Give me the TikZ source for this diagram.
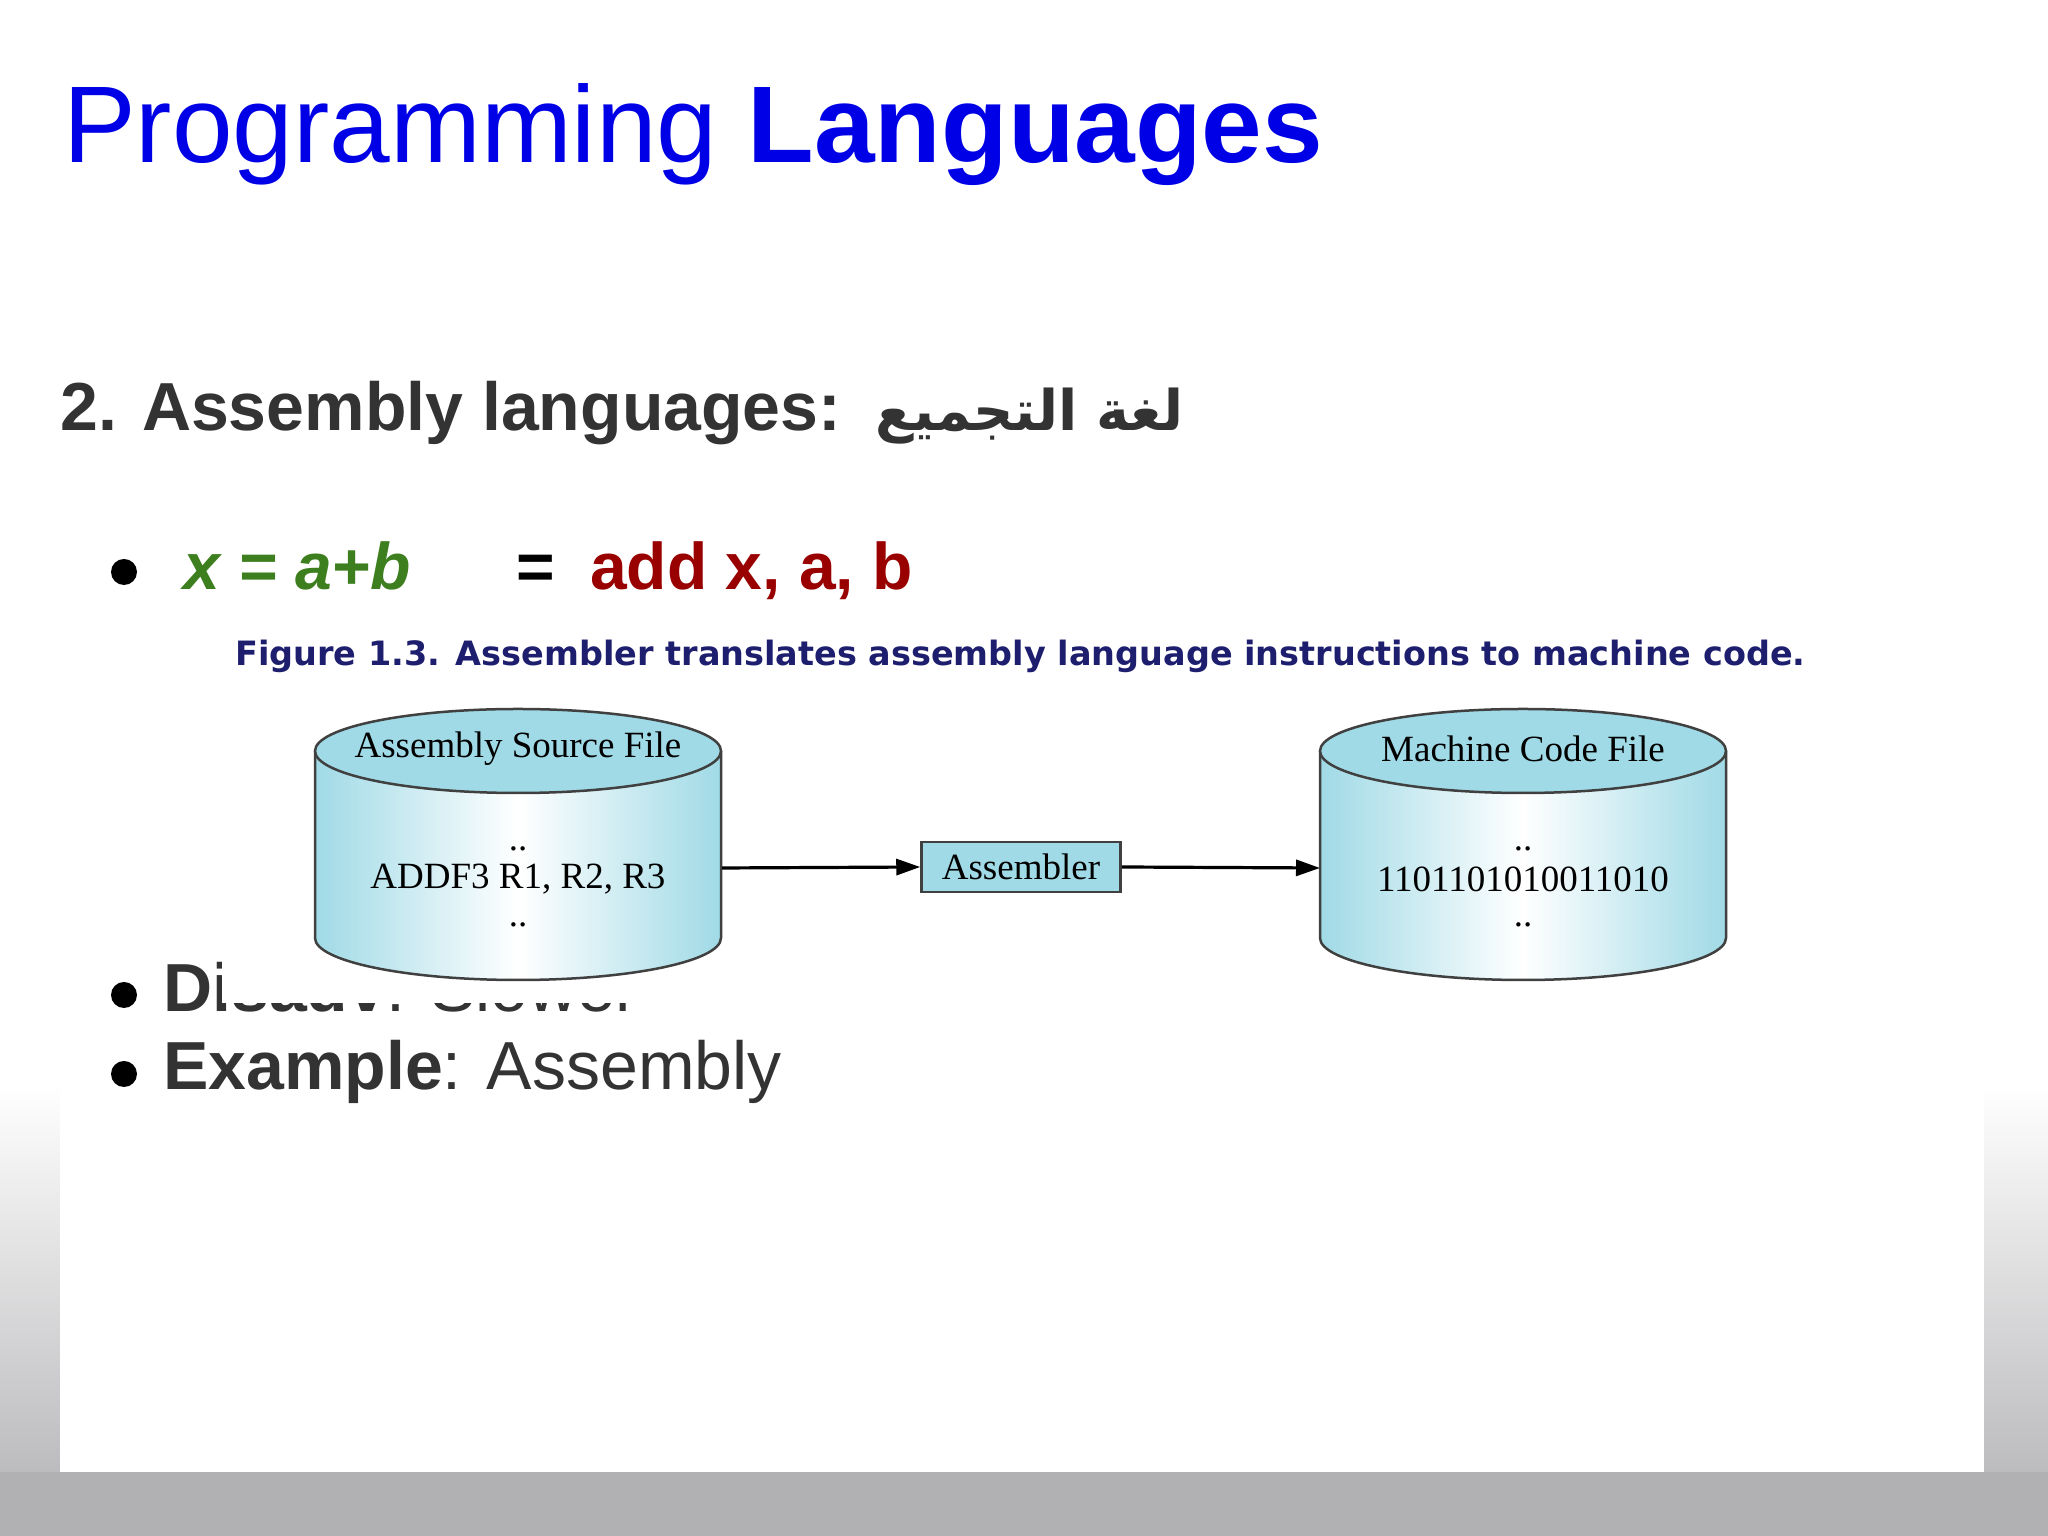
\documentclass[tikz,border=0pt]{standalone}
\usepackage{fontspec}
\setmainfont{Liberation Sans}
\newfontfamily\serifx{Liberation Serif}
\newfontfamily\capfont{DejaVu Sans}
\newfontfamily\arabicfont[Script=Arabic]{DejaVu Sans}
\TeXXeTstate=1
\usetikzlibrary{arrows.meta}
\definecolor{ttl}{RGB}{0,0,230}
\definecolor{dk}{RGB}{51,51,51}
\definecolor{grn}{RGB}{61,127,31}
\definecolor{rd}{RGB}{153,0,0}
\definecolor{cyl}{RGB}{160,218,230}
\definecolor{bgg}{RGB}{177,177,180}
\definecolor{nav}{RGB}{30,30,110}
\tikzset{
  txt/.style={anchor=base west,inner sep=0pt},
  cyltxt/.style={inner sep=0pt,font=\serifx\fontsize{37}{40}\selectfont},
  arr/.style={line width=3.2pt,-{Triangle[length=24pt,width=16pt]}},
  bul/.style={fill=black,draw=none}
}
\begin{document}
\begin{tikzpicture}[x=1pt,y=1pt]
\useasboundingbox (0,0) rectangle (2048,1536);
\fill[white] (0,0) rectangle (2048,1536);
\shade[top color=white,bottom color=bgg] (0,0) rectangle (2048,452);
\fill[bgg] (0,0) rectangle (2048,64);
\fill[white] (60,64) rectangle (1984,1536);
% title
\node[txt,text=ttl,font=\fontsize{109}{114}\selectfont] (title) at (63,1373) {Programming \textbf{Languages}};
\node[txt,text=dk,font=\bfseries\fontsize{68}{72}\selectfont] (head) at (60,1105) {2. Assembly languages:\hspace{0.5em}{\arabicfont\fontsize{56}{60}\selectfont\beginR لغة التجميع\endR}};
% bullet 1
\fill[bul] (124,964) circle (13);
\node[txt,text=grn,font=\bfseries\itshape\fontsize{66}{70}\selectfont] (eq) at (183,946) {x = a+b};
\node[txt,text=black,font=\bfseries\fontsize{66}{70}\selectfont] (eqs) at (516,946) {=};
\node[txt,text=rd,font=\bfseries\fontsize{66}{70}\selectfont] (add) at (590,946) {add x, a, b};
% bullets 2,3
\fill[bul] (124,541) circle (13);
\node[txt,text=dk,font=\fontsize{68}{72}\selectfont] (dis) at (163,524) {\textbf{Disadv}: Slower};
\fill[bul] (124,462) circle (13);
\node[txt,text=dk,font=\fontsize{68}{72}\selectfont] (ex) at (163,446) {\textbf{Example}: Assembly};
% figure cover
\fill[white] (222,533) rectangle (1776,846);
\node[txt,text=nav] (cap) at (235,870) {\resizebox{1570pt}{!}{\capfont\bfseries Figure 1.3. Assembler translates assembly language instructions to machine code.}};
% cylinders
\foreach \cx/\nm in {518/L,1523/R}{
  \shade[left color=cyl,right color=cyl,middle color=white] (\cx-203,785) -- (\cx-203,598) arc[start angle=180,end angle=360,x radius=203pt,y radius=42pt] -- (\cx+203,785) -- cycle;
  \draw[line width=2.5pt,black!75] (\cx-203,785) -- (\cx-203,598) arc[start angle=180,end angle=360,x radius=203pt,y radius=42pt] -- (\cx+203,785);
  \draw[line width=2.5pt,black!75,fill=cyl] (\cx,785) ellipse [x radius=203pt,y radius=42pt];
  \node[cyltxt] at (\cx,687) {..};
  \node[cyltxt] at (\cx,611) {..};
}
\node[cyltxt] (srct) at (518,787) {Assembly Source File};
\node[cyltxt] (mact) at (1523,787) {Machine Code File};
\node[cyltxt] (src) at (518,657) {ADDF3 R1, R2, R3};
\node[cyltxt] (mac) at (1523,657) {1101101010011010};
\coordinate (srcR) at (722,668);
\coordinate (macL) at (1320,668);
\node[draw=black!75,line width=2.5pt,fill=cyl,minimum width=199pt,minimum height=50pt,inner sep=0pt,font=\serifx\fontsize{37}{40}\selectfont] (asm) at (1021,669) {Assembler};
\draw[arr] (srcR) -- (asm.west);
\draw[arr] (asm.east) -- (macL);
\end{tikzpicture}
\end{document}
